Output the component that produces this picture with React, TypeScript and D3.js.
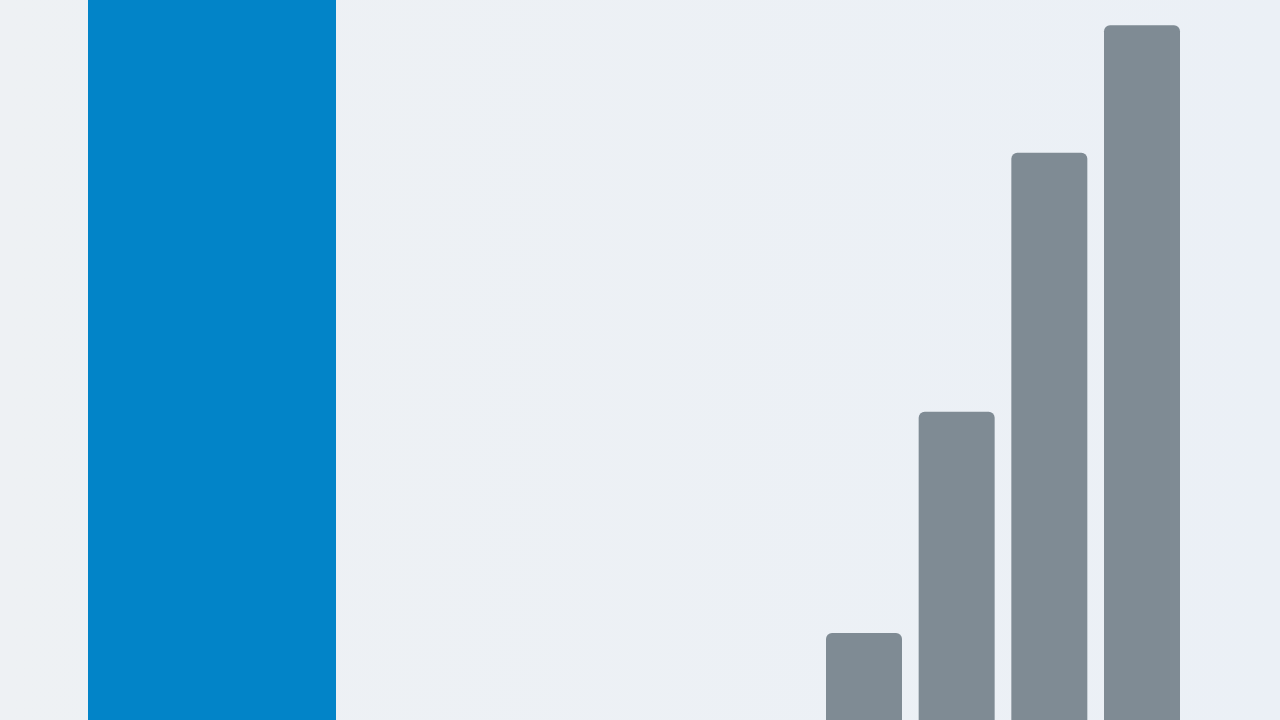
import React from "react";
import * as d3 from "d3";

const categories = ["Q1", "Q2", "Q3", "Q4"];
const values = [12.1, 42.8, 78.8, 96.5];
const highlightValue = 100;

const W = 1280;
const H = 720;

export default function App() {
  const y = d3.scaleLinear().domain([0, 100]).range([H, 0]);
  const x = d3
    .scaleBand<string>()
    .domain(categories)
    .range([826, 1180])
    .paddingInner(0.18)
    .paddingOuter(0);
  const hx = d3.scaleLinear().domain([0, 1]).range([88, 336]);
  const r = 6;

  return (
    <div style={{ position: "fixed", left: 0, top: 0, width: W, height: H, overflow: "hidden" }}>
      <svg width={W} height={H} style={{ display: "block" }}>
        <defs>
          <linearGradient id="bg" x1="0" y1="0" x2="1" y2="0">
            <stop offset="0" stopColor="#EEF1F4" />
            <stop offset="1" stopColor="#EBF0F6" />
          </linearGradient>
        </defs>
        <rect x={0} y={0} width={W} height={H} fill="url(#bg)" />
        <rect
          x={hx(0)}
          y={y(highlightValue)}
          width={hx(1) - hx(0)}
          height={H - y(highlightValue)}
          fill="#0284C8"
        />
        {categories.map((c, i) => (
          <rect
            key={c}
            x={x(c)}
            y={y(values[i])}
            width={x.bandwidth()}
            height={H - y(values[i]) + 10}
            rx={r}
            ry={r}
            fill="#7F8B94"
          />
        ))}
      </svg>
    </div>
  );
}
